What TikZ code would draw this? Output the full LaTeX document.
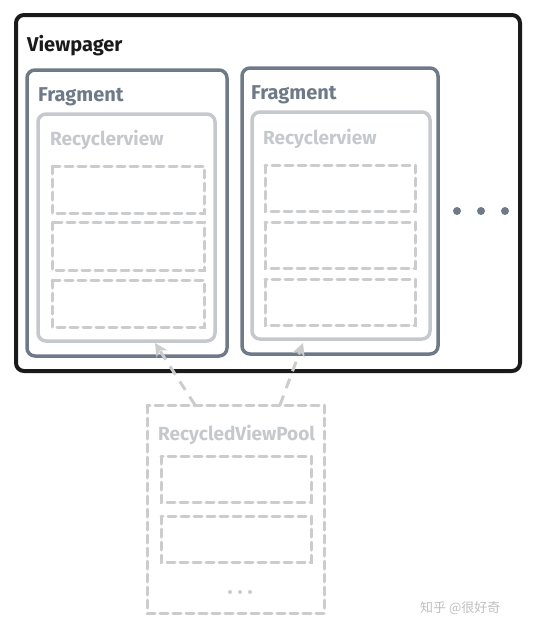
\documentclass[tikz,border=0pt]{standalone}
\usepackage{fontspec}
\setmainfont{Fira Sans}
\newfontfamily\cjk{Noto Sans CJK SC}
\usetikzlibrary{arrows.meta}
\definecolor{vpc}{HTML}{1A1A1A}
\definecolor{frc}{HTML}{6E7A88}
\definecolor{rvc}{HTML}{C5C8CC}
\definecolor{dsc}{HTML}{CACCCE}
\tikzset{
  vpbox/.style={draw=vpc, line width=4pt, rounded corners=8pt},
  frbox/.style={draw=frc, line width=3.5pt, rounded corners=8pt},
  rvbox/.style={draw=rvc, line width=3.5pt, rounded corners=8pt},
  itembox/.style={draw=dsc, line width=3pt, dash pattern=on 8pt off 5pt, line cap=round},
  poolbox/.style={draw=dsc, line width=3pt, dash pattern=on 8pt off 5pt, line cap=round},
  lbl/.style={anchor=west, inner sep=0pt, font=\bfseries\fontsize{#1}{#1}\selectfont},
  dotnode/.style={circle, fill=frc, minimum size=8pt, inner sep=0pt},
  pdot/.style={circle, fill=dsc, minimum size=4pt, inner sep=0pt},
  reuse/.style={draw=dsc, line width=3pt, dash pattern=on 10pt off 8pt, -{Stealth[length=13pt,width=13pt]}}
}
\begin{document}
\begin{tikzpicture}[x=1pt,y=-1pt]
\useasboundingbox (0,0) rectangle (537,633);
% viewpager
\draw[vpbox] (16,15) rectangle (520,371);
\node[lbl=20, text=vpc] (vpl) at (27,46) {Viewpager};
% fragment 1
\draw[frbox] (27,70) rectangle (227,356);
\node[lbl=20, text=frc] (fl1) at (38,97) {Fragment};
\draw[rvbox] (38,114) rectangle (215,341);
\node[lbl=19, text=rvc] (rl1) at (50,140) {Recyclerview};
\draw[itembox] (52,166) rectangle (204,213);
\draw[itembox] (52,222) rectangle (204,270);
\draw[itembox] (52,280) rectangle (204,327);
% fragment 2
\draw[frbox] (242,68) rectangle (438,354);
\node[lbl=20, text=frc] (fl2) at (251,95) {Fragment};
\draw[rvbox] (252,112) rectangle (430,339);
\node[lbl=19, text=rvc] (rl2) at (263,139) {Recyclerview};
\draw[itembox] (265,165) rectangle (415,211);
\draw[itembox] (265,222) rectangle (415,268);
\draw[itembox] (265,279) rectangle (415,325);
% dots
\node[dotnode] (d1) at (457,211) {};
\node[dotnode] (d2) at (481,211) {};
\node[dotnode] (d3) at (505,211) {};
% pool
\draw[poolbox] (147,405) rectangle (324,613);
\node[lbl=19, text=rvc] (pl) at (158,435) {RecycledViewPool};
\draw[itembox] (161,456) rectangle (311,502);
\draw[itembox] (161,516) rectangle (311,562);
\node[pdot] (p1) at (230,592) {};
\node[pdot] (p2) at (240,592) {};
\node[pdot] (p3) at (250,592) {};
% arrows
\coordinate (a1s) at (195,405);
\coordinate (a1e) at (155,343);
\coordinate (a2s) at (280,405);
\coordinate (a2e) at (303,343);
\draw[reuse] (a1s) -- (a1e);
\draw[reuse] (a2s) -- (a2e);
% watermark
\node[anchor=west, inner sep=0pt, text=black!25, font=\cjk\fontsize{13}{13}\selectfont] (wm) at (420,608) {知乎 @很好奇};
\end{tikzpicture}
\end{document}
